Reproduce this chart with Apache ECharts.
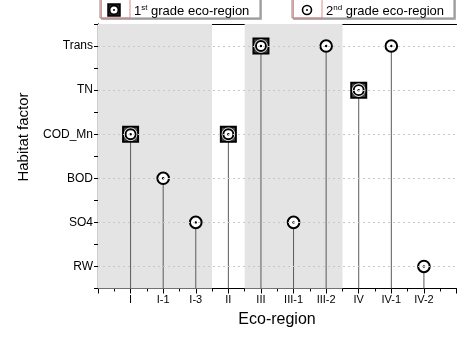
<!DOCTYPE html>
<html><head><meta charset="utf-8">
<script src="https://cdn.jsdelivr.net/npm/echarts@6/dist/echarts.min.js"></script>
<style>html,body{margin:0;padding:0;background:#fff}#c{width:474px;height:338px}</style>
</head><body><div id="c"></div>
<script>
const regions = ['I','I-1','I-3','II','III','III-1','III-2','IV','IV-1','IV-2'];
const factors = ['RW','SO4','BOD','COD_Mn','TN','Trans'];
const firstGradeRegions = ['I','II','III','IV'];
const firstGradeFactors = ['COD_Mn','COD_Mn','Trans','TN'];
const secondGradeRegions = ['I-1','I-3','III-1','III-2','IV-1','IV-2'];
const secondGradeFactors = ['BOD','SO4','SO4','Trans','Trans','RW'];
const shadedRanges = [[0, 3.5], [4.5, 7.5]];

const FONT = 'Liberation Sans, Arial, sans-serif';
const chart = echarts.init(document.getElementById('c'), null, {renderer:'canvas'});

const firstData = firstGradeRegions.map((r,i)=>[regions.indexOf(r)+1, factors.indexOf(firstGradeFactors[i])+1]);
const secondData = secondGradeRegions.map((r,i)=>[regions.indexOf(r)+1, factors.indexOf(secondGradeFactors[i])+1]);

function dropLine(p, params){
  const bottom = params.coordSys.y + params.coordSys.height;
  return {type:'line', shape:{x1:p[0],y1:p[1],x2:p[0],y2:bottom}, style:{stroke:'#5a5a5a',lineWidth:1}};
}
function renderFirst(params, api){
  const p = api.coord([api.value(0), api.value(1)]);
  return {type:'group', children:[
    dropLine(p, params),
    {type:'rect', shape:{x:p[0]-7.5,y:p[1]-7.5,width:15,height:15}, style:{fill:'#4a4a4a',stroke:'#000',lineWidth:2}},
    {type:'circle', shape:{cx:p[0],cy:p[1],r:6.3}, style:{fill:'#fff',stroke:'#fff',lineWidth:0.8}},
    {type:'circle', shape:{cx:p[0],cy:p[1],r:5}, style:{fill:'#fff',stroke:'#000',lineWidth:1.9}},
    {type:'circle', shape:{cx:p[0],cy:p[1],r:1.2}, style:{fill:'#000'}}
  ]};
}
function renderSecond(params, api){
  const p = api.coord([api.value(0), api.value(1)]);
  return {type:'group', children:[
    dropLine(p, params),
    {type:'circle', shape:{cx:p[0],cy:p[1],r:5.8}, style:{fill:'#fff',stroke:'#000',lineWidth:2}},
    {type:'circle', shape:{cx:p[0],cy:p[1],r:1.2}, style:{fill:'#000'}}
  ]};
}

const axisCommon = {axisLine:{show:true,lineStyle:{color:'#000',width:1.2}}, splitLine:{show:false}};

const option = {
  animation:false,
  textStyle:{fontFamily:FONT},
  grid:{left:98,right:17.5,top:24,bottom:49.5},
  xAxis:[
    Object.assign({type:'value',min:0,max:11,interval:1,
      axisTick:{length:5,lineStyle:{color:'#000'}},
      minorTick:{show:true,splitNumber:2,length:3,lineStyle:{color:'#000'}},
      axisLabel:{formatter:v=>regions[v-1]||'',fontSize:11,color:'#000',margin:6,fontFamily:FONT}}, axisCommon),
    Object.assign({type:'value',position:'top',min:0,max:11,interval:1,axisTick:{show:false},axisLabel:{show:false}}, axisCommon)
  ],
  yAxis:[
    Object.assign({type:'value',min:0.5,max:6.5,interval:0.5,
      axisTick:{length:4,lineStyle:{color:'#000'}},
      axisLabel:{formatter:v=>(Number.isInteger(v)?factors[v-1]:''),fontSize:12,color:'#000',margin:5,fontFamily:FONT}}, axisCommon),
    Object.assign({type:'value',position:'right',min:0.5,max:6.5,interval:0.5,axisTick:{show:false},axisLabel:{show:false}}, axisCommon)
  ],
  series:[
    {type:'line', data:[], z:1, silent:true,
      markArea:{silent:true, itemStyle:{color:'#e4e4e4'},
        data: shadedRanges.map(r=>[{xAxis:r[0]},{xAxis:r[1]}])},
      markLine:{silent:true, symbol:'none', label:{show:false},
        lineStyle:{color:'#c8c8c8',type:[2,3],width:1},
        data: factors.map((f,i)=>({yAxis:i+1}))}
    },
    {type:'custom', name:'1st grade', z:3, renderItem:renderFirst, data:firstData},
    {type:'custom', name:'2nd grade', z:3, renderItem:renderSecond, data:secondData}
  ],
  graphic:[
    {type:'text', x:277, y:320, style:{text:'Eco-region', font:'16px '+FONT, fill:'#000', align:'center', verticalAlign:'middle'}},
    {type:'text', x:24, y:137, rotation:Math.PI/2, style:{text:'Habitat factor', font:'15px '+FONT, fill:'#000', align:'center', verticalAlign:'middle'}},
    // legend box 1
    {type:'rect', shape:{x:100,y:-3,width:160,height:21}, style:{fill:'#fff',stroke:'#8a8a8a',lineWidth:1,shadowColor:'#b0b0b0',shadowOffsetX:1.5,shadowOffsetY:1.5}},
    {type:'rect', shape:{x:101,y:-3,width:29,height:21}, style:{fill:'none',stroke:'#e08a8a',lineWidth:1}},
    {type:'rect', shape:{x:108,y:4,width:12,height:12}, style:{fill:'#222',stroke:'#000',lineWidth:1.5}},
    {type:'circle', shape:{cx:114,cy:10,r:4.3}, style:{fill:'#fff',stroke:'#000',lineWidth:1.5}},
    {type:'circle', shape:{cx:114,cy:10,r:1}, style:{fill:'#000'}},
    {type:'text', x:134, y:11, style:{text:'{n|1}{s|st}{n| grade eco-region}', verticalAlign:'middle', align:'left',
      rich:{n:{font:'13px '+FONT, fill:'#000'}, s:{font:'8px '+FONT, fill:'#000', padding:[0,0,7,0]}}}},
    // legend box 2
    {type:'rect', shape:{x:292,y:-3,width:162,height:21}, style:{fill:'#fff',stroke:'#8a8a8a',lineWidth:1,shadowColor:'#b0b0b0',shadowOffsetX:1.5,shadowOffsetY:1.5}},
    {type:'rect', shape:{x:293,y:-3,width:29,height:21}, style:{fill:'none',stroke:'#e08a8a',lineWidth:1}},
    {type:'circle', shape:{cx:307,cy:10,r:4.5}, style:{fill:'#fff',stroke:'#000',lineWidth:1.6}},
    {type:'circle', shape:{cx:307,cy:10,r:1}, style:{fill:'#000'}},
    {type:'text', x:326, y:11, style:{text:'{n|2}{s|nd}{n| grade eco-region}', verticalAlign:'middle', align:'left',
      rich:{n:{font:'13px '+FONT, fill:'#000'}, s:{font:'8px '+FONT, fill:'#000', padding:[0,0,7,0]}}}}
  ]
};
chart.setOption(option);
</script></body></html>
